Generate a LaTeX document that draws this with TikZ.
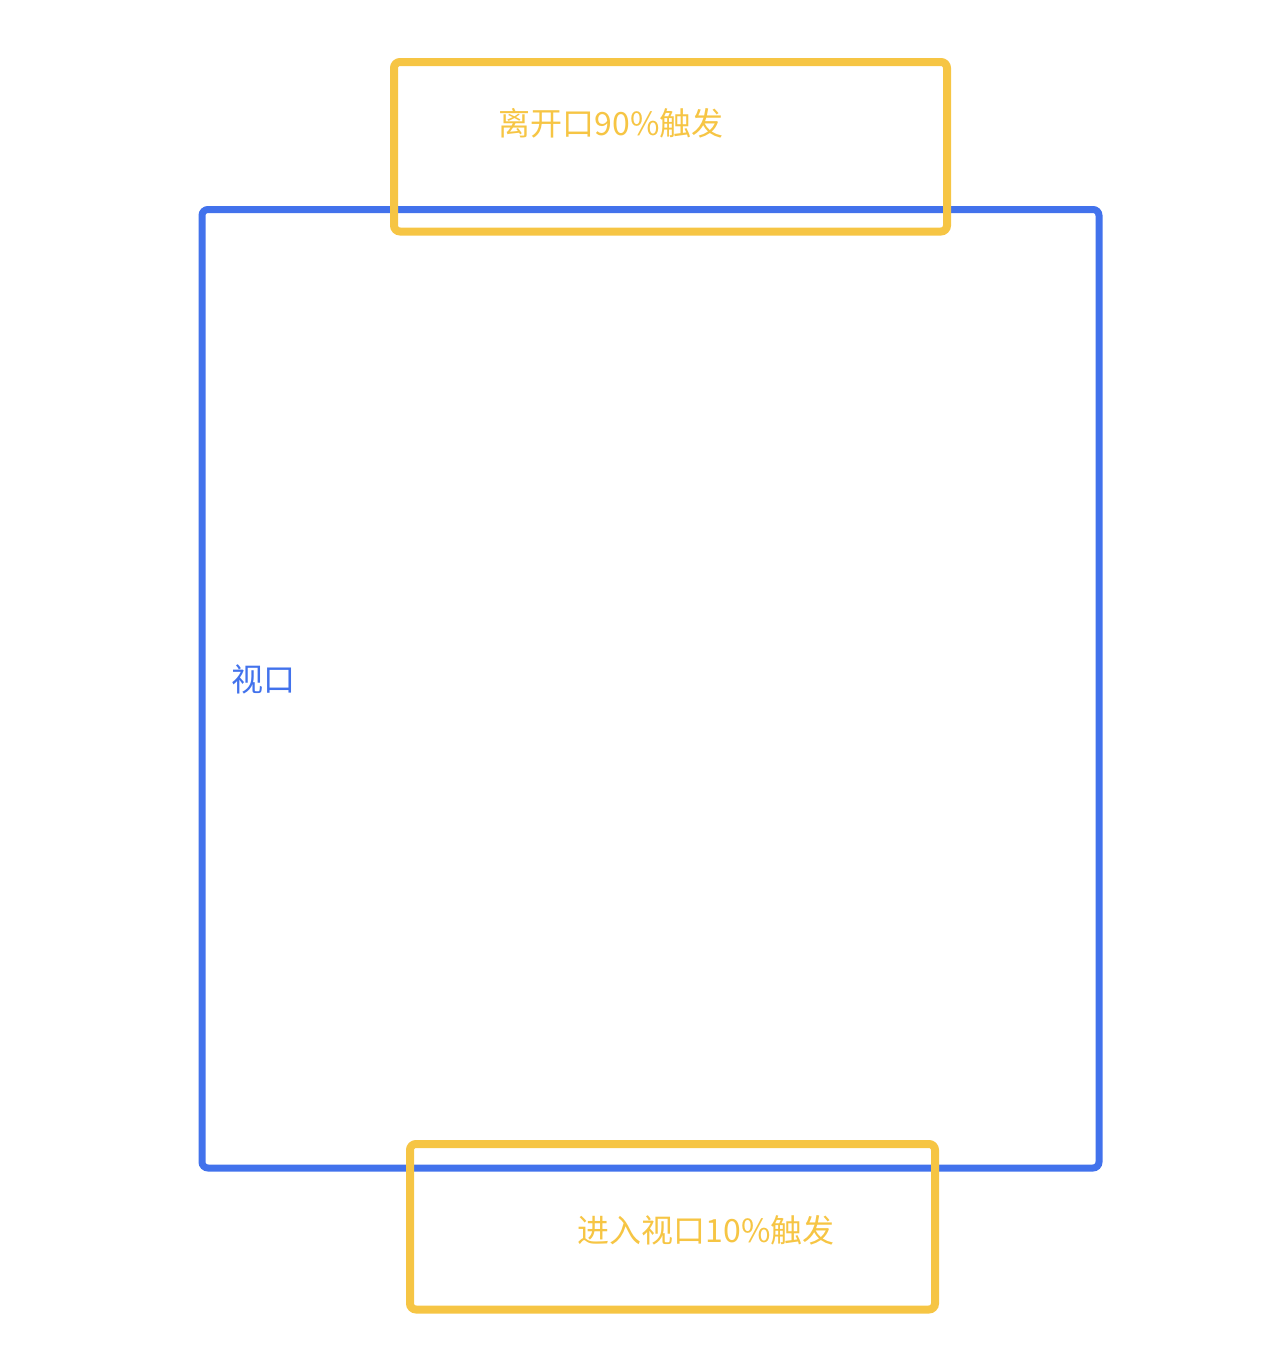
\documentclass[tikz,border=0pt]{standalone}
\usepackage{fontspec}
\setmainfont{Noto Sans CJK SC}
\definecolor{vpblue}{HTML}{4272EC}
\definecolor{trigyellow}{HTML}{F6C544}
\begin{document}
\begin{tikzpicture}[x=0.5pt,y=-0.5pt,
  viewport/.style={draw=vpblue,line width=3.5pt,rounded corners=3pt},
  trigbox/.style={draw=trigyellow,line width=4pt,rounded corners=3pt},
  lbl/.style={font=\fontsize{16}{19}\selectfont,inner sep=0pt,anchor=center}]
\useasboundingbox (0,0) rectangle (1266,1360);
\draw[viewport] (202,209.5) rectangle (1099,1168);
\draw[trigbox] (394,62) rectangle (947,231.5);
\draw[trigbox] (410,1144) rectangle (935,1309.5);
\node[lbl,text=trigyellow] (top) at (611,123) {离开口90\%触发};
\node[lbl,text=vpblue] (vp) at (263,679) {视口};
\node[lbl,text=trigyellow] (bot) at (706,1230) {进入视口10\%触发};
\end{tikzpicture}
\end{document}
